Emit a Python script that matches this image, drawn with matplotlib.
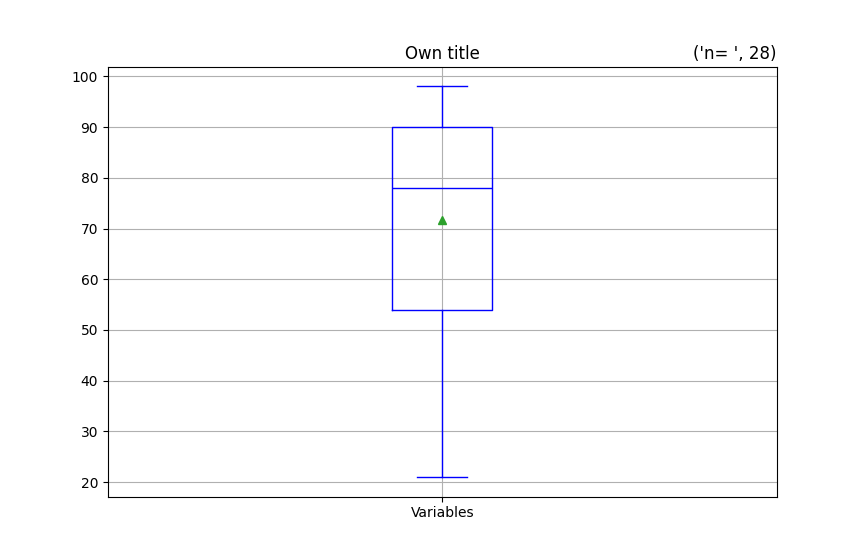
import matplotlib
matplotlib.use("Agg")
import matplotlib.pyplot as plt

# box statistics
labels = ["Variables"]
whislo = [21]
q1 = [54]
med = [78]
q3 = [90]
whishi = [98]
mean = [71.6]
n_obs = 28

stats = []
for i in range(len(labels)):
    stats.append({
        "label": labels[i],
        "whislo": whislo[i], "q1": q1[i], "med": med[i],
        "q3": q3[i], "whishi": whishi[i], "mean": mean[i], "fliers": [],
    })

fig, ax = plt.subplots(figsize=(8.63, 5.58), dpi=100)
blue = "blue"
ax.bxp(stats, showmeans=True, widths=0.15,
       boxprops=dict(color=blue), whiskerprops=dict(color=blue),
       capprops=dict(color=blue), medianprops=dict(color=blue))
ax.grid(True)
ax.set_axisbelow(True)
ax.set_title("Own title")
ax.set_title(str(("n= ", n_obs)), loc="right")

fig.savefig("out.png", dpi=100)
